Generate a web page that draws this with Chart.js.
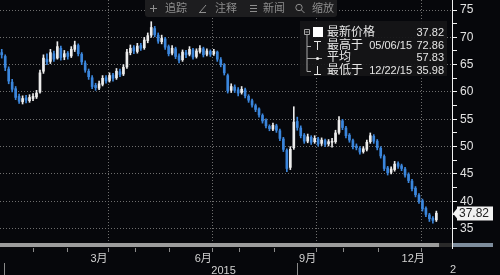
<!DOCTYPE html>
<html>
<head>
<meta charset="utf-8">
<script src="https://cdn.jsdelivr.net/npm/chart.js@4/dist/chart.umd.min.js"></script>
<style>
  html, body { margin: 0; padding: 0; background: #06070b; }
  #wrap { width: 500px; height: 275px; }
</style>
</head>
<body>
<div id="wrap"><canvas id="c" width="500" height="275"></canvas></div>
<script>
// daily-ish candles, 2015 (two sessions per candle)
var opens = [67.2,66.5,64.2,61.8,60.6,59.2,58.2,58.9,58.4,58.8,
  59.1,60.0,63.8,66.0,65.6,67.0,66.2,68.0,66.4,67.1,
  66.6,67.8,68.5,66.9,65.3,63.8,62.6,61.2,60.7,61.4,
  62.6,62.1,63.1,62.6,63.7,63.3,64.6,67.2,68.1,67.4,
  68.5,68.1,69.4,70.4,71.6,70.4,69.2,69.7,68.3,67.1,
  67.9,66.6,65.9,67.2,66.9,67.7,66.5,67.4,67.9,66.9,
  67.4,67.0,67.3,65.9,64.9,63.0,60.3,60.9,60.4,59.9,
  60.4,59.2,58.4,57.5,56.9,55.7,54.8,53.7,53.2,53.8,
  52.9,51.4,49.3,46.2,49.8,54.6,53.4,52.1,51.0,51.7,
  50.9,51.4,50.6,51.1,50.5,50.8,50.9,52.6,54.7,53.4,
  52.1,51.1,50.1,49.7,49.1,49.5,50.9,51.9,51.0,49.7,
  48.2,46.1,45.3,45.8,46.9,46.5,45.9,44.9,43.7,42.4,
  41.1,40.1,38.7,37.5,36.9,36.6];
var highs = [67.8,66.8,64.6,62.3,61.0,59.6,59.3,59.4,59.5,59.7,
  60.3,64.0,66.8,67.0,67.8,67.5,69.2,68.4,67.6,67.4,
  68.3,69.3,68.8,67.2,65.7,64.2,63.0,61.6,62.0,63.0,
  63.0,63.5,63.4,64.3,64.2,65.0,67.8,68.6,68.5,68.9,
  68.9,70.0,70.8,72.86,72.0,70.8,70.4,70.0,68.6,68.5,
  68.2,67.0,67.7,67.6,68.3,68.0,67.9,68.5,68.2,67.9,
  67.7,67.8,67.5,66.3,65.2,63.3,61.5,61.3,60.8,61.0,
  60.7,59.5,58.7,57.8,57.1,56.0,55.1,54.0,54.3,54.1,
  53.2,51.7,49.6,50.0,57.3,55.4,53.8,52.4,52.3,52.0,
  52.0,51.7,51.6,51.4,51.3,51.5,53.0,55.5,55.0,53.7,
  52.4,51.4,50.5,50.0,50.0,51.2,52.5,52.2,51.3,50.0,
  48.5,46.4,46.3,47.3,47.2,46.8,46.2,45.2,44.0,42.7,
  41.4,40.4,39.0,37.8,37.2,38.2];
var lows = [66.2,63.9,61.5,60.0,58.6,57.9,57.8,58.0,58.1,58.4,
  58.8,59.8,63.4,65.0,65.2,65.6,66.0,65.8,65.9,66.0,
  66.3,67.4,66.6,65.0,63.6,62.3,60.6,60.3,60.4,61.1,
  61.6,61.8,62.0,62.3,62.8,63.0,64.3,66.8,67.0,67.1,
  67.6,67.8,69.0,70.0,70.1,68.9,68.8,67.8,66.6,66.8,
  66.1,65.3,65.6,66.3,66.6,66.0,66.2,67.1,66.4,66.6,
  66.5,66.7,65.6,64.6,63.1,59.8,59.9,59.9,59.3,59.6,
  58.9,58.1,57.2,56.4,55.4,54.3,53.4,52.9,52.9,52.6,
  51.1,49.1,45.4,45.8,49.5,53.0,51.6,50.6,50.7,50.4,
  50.6,50.1,50.2,50.0,50.1,49.9,50.6,52.3,53.1,51.6,
  50.8,49.6,49.4,48.6,48.8,49.2,50.6,50.6,49.4,47.9,
  45.6,44.8,45.0,45.5,46.0,45.6,44.4,43.4,41.9,40.8,
  39.6,38.2,37.2,36.3,35.98,36.3];
var closes = [66.8,64.5,62.0,60.5,59.0,58.3,58.8,58.5,59.0,59.2,
  59.8,63.5,66.2,65.5,67.2,66.0,68.3,66.3,67.0,66.5,
  67.8,68.6,67.0,65.5,64.0,62.8,61.0,60.8,61.5,62.5,
  62.0,63.0,62.5,63.8,63.2,64.5,67.3,68.0,67.5,68.4,
  68.0,69.5,70.3,71.8,70.5,69.3,69.8,68.2,67.0,68.0,
  66.5,65.8,67.3,66.8,67.8,66.4,67.5,68.0,66.8,67.5,
  66.9,67.4,66.0,65.0,63.5,60.2,61.0,60.3,59.8,60.5,
  59.3,58.5,57.6,56.8,55.8,54.7,53.8,53.3,53.9,53.0,
  51.5,49.5,46.0,49.5,54.5,53.5,52.0,51.0,51.8,50.8,
  51.5,50.5,51.2,50.4,50.9,50.8,52.5,54.8,53.5,52.0,
  51.2,50.0,49.8,49.0,49.6,50.8,52.0,51.0,49.8,48.3,
  46.0,45.2,45.9,46.8,46.4,46.0,44.8,43.8,42.3,41.2,
  40.0,38.6,37.6,36.8,36.5,37.82];

// axis ticks (calendar day of 2015)
var monthDays = [0,31,59,90,120,151,181,212,243,273,304,334,365];
var quarterDays = [0,90,181,273,365];
var monthLabelDays = [73,165,257,350];
var monthLabels = ['3月','6月','9月','12月'];
var yearDays = [182];
var yearLabels = ['2015'];
var yearSeparators = [0, 365];
var priceTicks = [35,37.5,40,42.5,45,47.5,50,52.5,55,57.5,60,62.5,65,67.5,70,72.5,75];

// legend numbers
var lastPrice = 37.82;
var highPrice = 72.86, highDate = '05/06/15';
var avgPrice = 57.83;
var lowPrice = 35.98, lowDate = '12/22/15';
var toolbarItems = ['追踪', '注释', '新闻', '缩放'];

var UP = '#ececec', DOWN = '#3b86dc';
var GRID = '#6e6e6e';
var FONT = "'Liberation Sans', 'Noto Sans CJK SC', sans-serif";

var slots = [];
for (var i = 0; i < closes.length + 4; i++) slots.push(i);
var colors = closes.map(function (c, i) { return c >= opens[i] ? UP : DOWN; });

var overlay = {
  id: 'overlay',
  afterDraw: function (chart) {
    var ctx = chart.ctx, area = chart.chartArea;
    var xs = chart.scales.x, ys = chart.scales.y;
    ctx.save();

    // navigator bar under plot
    var lastX = xs.getPixelForValue(closes.length - 1) + 3;
    ctx.fillStyle = '#9c9c9c';
    ctx.fillRect(area.left, area.bottom - 5, lastX - area.left, 4);
    ctx.fillStyle = '#2a2a2a';
    ctx.fillRect(lastX, area.bottom - 5, area.right - lastX, 4);
    ctx.fillStyle = '#7d8c9c';
    ctx.fillRect(area.right + 1, area.bottom - 5, 40, 4);

    // cut-off next year label
    ctx.fillStyle = '#d2d2d2';
    ctx.font = '11px ' + FONT;
    ctx.textBaseline = 'middle';
    ctx.textAlign = 'left';
    ctx.fillText('2', area.right - 2, 270);

    // toolbar
    ctx.fillStyle = '#1d1d1f';
    ctx.beginPath();
    ctx.roundRect(145, -3, 192, 20, 3);
    ctx.fill();
    ctx.fillStyle = '#8e8e8e';
    ctx.strokeStyle = '#8e8e8e';
    var tx = [165, 215, 263, 312];
    toolbarItems.forEach(function (t, k) { ctx.fillText(t, tx[k], 8.5); });
    ctx.lineWidth = 1;
    ctx.beginPath();
    ctx.moveTo(150, 8.5); ctx.lineTo(157, 8.5);
    ctx.moveTo(153.5, 5); ctx.lineTo(153.5, 12);
    ctx.moveTo(200, 12); ctx.lineTo(206, 5);
    ctx.moveTo(199, 12.5); ctx.lineTo(206, 12.5);
    ctx.moveTo(250, 5.5); ctx.lineTo(257, 5.5);
    ctx.moveTo(250, 8.5); ctx.lineTo(257, 8.5);
    ctx.moveTo(250, 11.5); ctx.lineTo(257, 11.5);
    ctx.stroke();
    ctx.beginPath();
    ctx.arc(299, 7.5, 3.2, 0, Math.PI * 2);
    ctx.moveTo(301.5, 10); ctx.lineTo(304.5, 13);
    ctx.stroke();

    // legend box
    ctx.fillStyle = 'rgba(22,22,24,0.93)';
    ctx.fillRect(300, 21, 147, 55);
    ctx.strokeStyle = '#a8a8a8';
    ctx.beginPath();
    ctx.rect(304.5, 29.5, 5, 5);
    ctx.moveTo(305.5, 32); ctx.lineTo(308.5, 32);
    ctx.moveTo(307, 35); ctx.lineTo(307, 71.5);
    ctx.moveTo(307, 46.5); ctx.lineTo(311, 46.5);
    ctx.moveTo(307, 71.5); ctx.lineTo(311, 71.5);
    ctx.moveTo(307, 58.5); ctx.lineTo(322, 58.5);
    ctx.stroke();
    ctx.strokeStyle = '#e8e8e8';
    ctx.beginPath();
    ctx.moveTo(314, 41.5); ctx.lineTo(321, 41.5);
    ctx.moveTo(317.5, 41.5); ctx.lineTo(317.5, 50);
    ctx.moveTo(317.5, 66); ctx.lineTo(317.5, 74.5);
    ctx.moveTo(314, 74.5); ctx.lineTo(321, 74.5);
    ctx.stroke();
    ctx.fillStyle = '#e8e8e8';
    ctx.beginPath();
    ctx.arc(317.5, 58.5, 1.6, 0, Math.PI * 2);
    ctx.fill();
    ctx.fillStyle = '#ffffff';
    ctx.fillRect(313, 27, 10, 10);

    ctx.font = '12px ' + FONT;
    ctx.fillStyle = '#e6e6e6';
    ctx.textAlign = 'left';
    ctx.fillText('最新价格', 327, 32.5);
    ctx.fillText('最高于', 327, 45.5);
    ctx.fillText('平均', 327, 58);
    ctx.fillText('最低于', 327, 71);
    ctx.font = '11px ' + FONT;
    ctx.textAlign = 'right';
    ctx.fillText(highDate, 412, 45.5);
    ctx.fillText(lowDate, 412, 71);
    ctx.fillText(lastPrice.toFixed(2), 444, 32.5);
    ctx.fillText(highPrice.toFixed(2), 444, 45.5);
    ctx.fillText(avgPrice.toFixed(2), 444, 58);
    ctx.fillText(lowPrice.toFixed(2), 444, 71);

    // last price tag on the axis
    ctx.font = '12px ' + FONT;
    var py = Math.round(ys.getPixelForValue(lastPrice)) + 0.5;
    ctx.fillStyle = '#f2f2f2';
    ctx.beginPath();
    ctx.moveTo(area.right + 1, py);
    ctx.lineTo(area.right + 5, py - 5);
    ctx.lineTo(area.right + 5, py + 5);
    ctx.closePath();
    ctx.fill();
    ctx.fillRect(area.right + 5, py - 7, 36, 14);
    ctx.fillStyle = '#222';
    ctx.textAlign = 'left';
    ctx.fillText(lastPrice.toFixed(2), area.right + 7, py);
    ctx.restore();
  }
};

function tickVal(ctx) { return ctx.tick ? ctx.tick.value : null; }
function noPad(s) { s.paddingLeft = 0; s.paddingRight = 0; s.paddingTop = 0; s.paddingBottom = 0; }

new Chart(document.getElementById('c'), {
  type: 'bar',
  data: {
    labels: slots,
    datasets: [{
      data: lows.map(function (l, i) { return [l, highs[i]]; }),
      backgroundColor: colors,
      barThickness: 1,
      grouped: false,
      borderWidth: 0
    }, {
      data: opens.map(function (o, i) { return [o, closes[i]]; }),
      backgroundColor: colors,
      barThickness: 2,
      grouped: false,
      borderWidth: 0,
      minBarLength: 1
    }]
  },
  options: {
    responsive: false,
    animation: false,
    devicePixelRatio: 1,
    layout: { padding: 0 },
    plugins: { legend: { display: false }, tooltip: { enabled: false } },
    scales: {
      x: { type: 'category', display: false, offset: true },
      xd: {
        type: 'linear', position: 'bottom', weight: 1,
        min: -2.5, max: 372.5,
        afterBuildTicks: function (s) {
          s.ticks = monthDays.concat(monthLabelDays).sort(function (a, b) { return a - b; })
            .map(function (v) { return { value: v }; });
        },
        afterFit: function (s) { s.height = 15; noPad(s); },
        border: { display: false, dash: [1, 2] },
        grid: {
          color: function (c) { return quarterDays.indexOf(tickVal(c)) >= 0 ? GRID : 'rgba(0,0,0,0)'; },
          tickColor: function (c) { return monthDays.indexOf(tickVal(c)) >= 0 ? '#8a8a8a' : 'rgba(0,0,0,0)'; },
          tickLength: 4
        },
        ticks: {
          autoSkip: false, maxRotation: 0, padding: 0,
          color: '#d2d2d2', font: { family: FONT, size: 11 },
          callback: function (v) {
            var k = monthLabelDays.indexOf(v);
            return k >= 0 ? monthLabels[k] : '';
          }
        }
      },
      xy: {
        type: 'linear', position: 'bottom', weight: 2,
        min: -2.5, max: 372.5,
        afterBuildTicks: function (s) {
          s.ticks = yearSeparators.concat(yearDays).sort(function (a, b) { return a - b; })
            .map(function (v) { return { value: v }; });
        },
        afterFit: function (s) { s.height = 12; noPad(s); },
        border: { display: false },
        grid: {
          drawOnChartArea: false,
          tickLength: 12,
          tickColor: function (c) { return yearSeparators.indexOf(tickVal(c)) >= 0 ? '#8a8a8a' : 'rgba(0,0,0,0)'; }
        },
        ticks: {
          autoSkip: false, maxRotation: 0, padding: -11,
          color: '#d2d2d2', font: { family: FONT, size: 11 },
          callback: function (v) {
            var k = yearDays.indexOf(v);
            return k >= 0 ? yearLabels[k] : '';
          }
        }
      },
      y: {
        type: 'linear', position: 'right',
        min: 31.45, max: 76.83,
        afterBuildTicks: function (s) {
          s.ticks = priceTicks.map(function (v) { return { value: v }; });
        },
        afterFit: function (s) { s.width = 48; noPad(s); },
        border: { display: true, color: '#f0f0f0', width: 1, dash: [1, 2] },
        grid: {
          color: function (c) { return tickVal(c) !== null && tickVal(c) % 5 === 0 ? GRID : 'rgba(0,0,0,0)'; },
          tickColor: '#f0f0f0',
          tickLength: 5
        },
        ticks: {
          autoSkip: false, padding: 3,
          color: '#e2e2e2', font: { family: FONT, size: 12 },
          callback: function (v) { return v % 5 === 0 ? String(v) : ''; }
        }
      }
    }
  },
  plugins: [overlay]
});
</script>
</body>
</html>
